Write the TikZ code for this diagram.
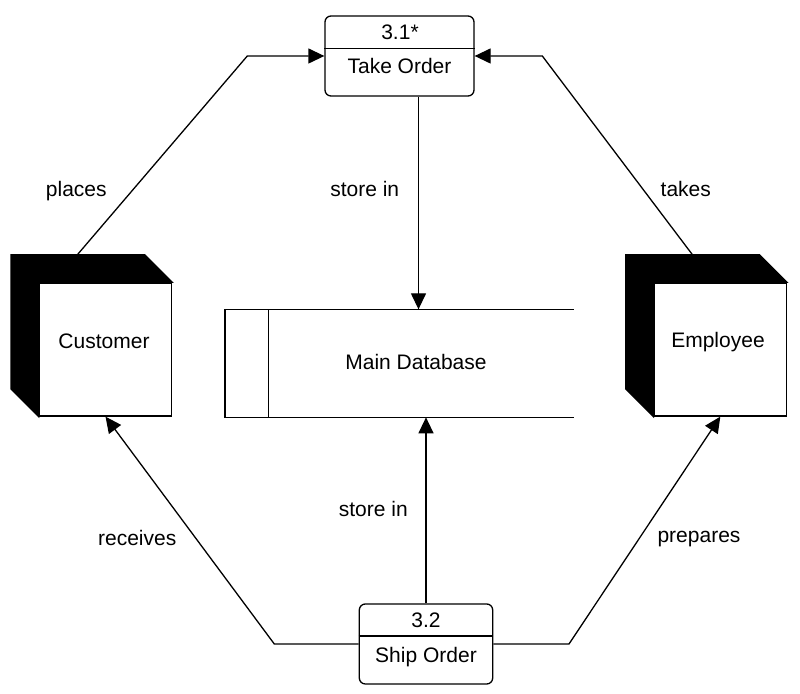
\documentclass[tikz,border=0pt]{standalone}
\usepackage{fontspec}
\setmainfont{Liberation Sans}
\usetikzlibrary{arrows.meta,calc}

\tikzset{
	every node/.style={font=\fontsize{21bp}{25bp}\selectfont, inner sep=0pt},
	process/.style={draw, fill=white, rounded corners=6bp, minimum width=149bp, minimum height=80bp},
	entity/.style={draw, fill=white, minimum width=132.4bp, minimum height=133bp},
	store/.style={minimum width=347.6bp, minimum height=106.7bp},
	flow/.style={-{Triangle[length=16bp,width=15bp]}},
	flowtext/.style={anchor=base}
}

\begin{document}
\begin{tikzpicture}[x=1bp, y=1bp, line width=1.3bp, line join=miter]
		\useasboundingbox ( 0, 0 ) rectangle ( 800, 694 );

		% процесс 3.1
		\node [process] (takeorder) at ( 399.5, 638 ) {};
		\draw ( $ (takeorder.north west) + ( 0, -33.3 ) $ ) -- ( $ (takeorder.north east) + ( 0, -33.3 ) $ );
		\node [flowtext] (takeid) at ( 400, 654 ) {3.1*};
		\node [flowtext] (takename) at ( 399.5, 620 ) {Take Order};

		% процесс 3.2
		\node [process, minimum width=133.4bp] (shiporder) at ( 426, 50 ) {};
		\draw ( $ (shiporder.north west) + ( 0, -32.7 ) $ ) -- ( $ (shiporder.north east) + ( 0, -32.7 ) $ );
		\node [flowtext] (shipid) at ( 426, 66.3 ) {3.2};
		\node [flowtext] (shipname) at ( 426, 31.7 ) {Ship Order};

		% хранилище
		\node [store] (database) at ( 399.5, 330.65 ) {};
		\draw (database.north east) -- (database.north west) -- (database.south west) -- (database.south east);
		\draw ( $ (database.north west) + ( 43.3, 0 ) $ ) -- ( $ (database.south west) + ( 43.3, 0 ) $ );
		\node [flowtext] (dbname) at ( 416, 324.7 ) {Main Database};

		% внешняя сущность: клиент
		\node [entity] (customer) at ( 105.5, 344.5 ) {};
		\filldraw ( $ (customer.north west) + ( -27.6, 27.6 ) $ ) -- ( $ (customer.north east) + ( -27.6, 27.6 ) $ ) -- (customer.north east) -- (customer.north west) -- (customer.south west) -- ( $ (customer.south west) + ( -27.6, 27.6 ) $ ) -- cycle;
		\node [flowtext] (custname) at ( 104, 345.7 ) {Customer};

		% внешняя сущность: сотрудник
		\node [entity] (employee) at ( 720.3, 344.5 ) {};
		\filldraw ( $ (employee.north west) + ( -27.6, 27.6 ) $ ) -- ( $ (employee.north east) + ( -27.6, 27.6 ) $ ) -- (employee.north east) -- (employee.north west) -- (employee.south west) -- ( $ (employee.south west) + ( -27.6, 27.6 ) $ ) -- cycle;
		\node [flowtext] (empname) at ( 718, 346.7 ) {Employee};

		% потоки
		\coordinate (placesbend) at ( 247.3, 638 );
		\coordinate (takesbend) at ( 542.3, 638 );
		\coordinate (receivesbend) at ( 274.3, 50 );
		\coordinate (preparesbend) at ( 569, 50 );
		\draw [flow] ( $ (customer.north west) + ( 38.7, 27.6 ) $ ) -- (placesbend) -- (takeorder.west);
		\draw [flow] ( $ (employee.north west) + ( 39, 27.6 ) $ ) -- (takesbend) -- (takeorder.east);
		\draw [flow] ( $ (takeorder.south) + ( 19, 0 ) $ ) -- ( $ (takeorder.south |- database.north) + ( 19, 0 ) $ );
		\draw [flow] (shiporder.north) -- (shiporder.north |- database.south);
		\draw [flow] (shiporder.west) -- (receivesbend) -- (customer.south);
		\draw [flow] (shiporder.east) -- (preparesbend) -- (employee.south);

		% подписи потоков
		\node [flowtext] (places) at ( 76.3, 497.3 ) {places};
		\node [flowtext] (takes) at ( 685.8, 497.3 ) {takes};
		\node [flowtext] (storein) at ( 364.7, 497.3 ) {store in};
		\node [flowtext] (storeout) at ( 373.3, 177.3 ) {store in};
		\node [flowtext] (receives) at ( 137.2, 148 ) {receives};
		\node [flowtext] (prepares) at ( 699, 151.3 ) {prepares};
	\end{tikzpicture}
\end{document}
